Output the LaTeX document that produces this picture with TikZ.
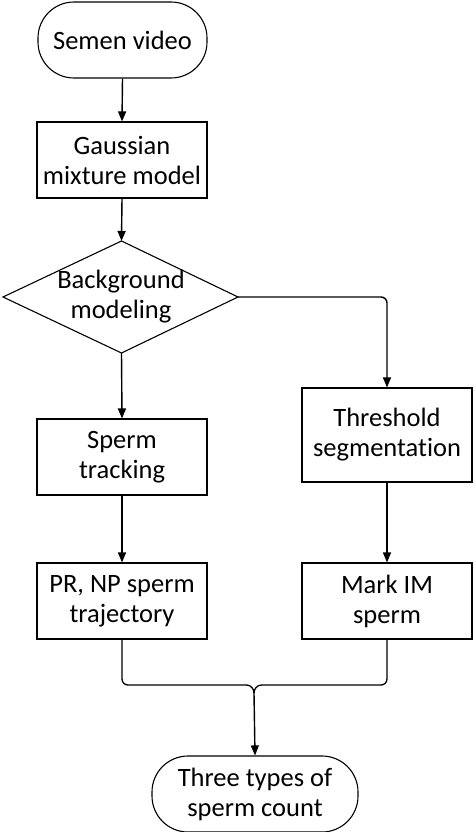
\documentclass[tikz,border=0pt]{standalone}
\usepackage{fontspec}
\setmainfont[Ligatures=NoCommon]{Carlito}
\usetikzlibrary{arrows.meta,calc}
\begin{document}
\begin{tikzpicture}[x=1pt,y=-1pt,
  every node/.style={font=\fontsize{26.5}{30}\selectfont, align=center, inner sep=0pt},
  box/.style={draw, line width=1.1pt, minimum width=170pt, minimum height=76pt},
  pill/.style={draw, line width=1.1pt, rounded corners=36pt, minimum height=76pt},
  conn/.style={line width=1.4pt, -{Triangle[length=10pt,width=8pt]}},
  plain/.style={line width=1.3pt}]
\useasboundingbox (0,0) rectangle (474,832);
\node[pill, minimum width=169pt] (sv) at (122.5,40) {Semen video};
\node[box] (gmm) at (122,160) {Gaussian\\mixture model};
\node (bg) at (121,297) {Background\\modeling};
\coordinate (bgW) at (3,297);
\coordinate (bgN) at (121.5,241);
\coordinate (bgE) at (238,297);
\coordinate (bgS) at (121.5,353);
\draw[line width=1.1pt] (bgW) -- (bgN) -- (bgE) -- (bgS) -- cycle;
\node[box] (st) at (122,457) {Sperm\\tracking};
\node[box] (pr) at (122,601) {PR, NP sperm\\trajectory};
\node[box, minimum height=94pt] (th) at (387,435) {Threshold\\segmentation};
\node[box] (mk) at (387,601) {Mark IM\\sperm};
\node[pill, minimum width=206pt] (out) at (255,794) {Three types of\\sperm count};
\coordinate (j) at (254,693);
\draw[conn] (sv.south) -- (gmm.north);
\draw[conn] (gmm.south) -- (bgN);
\draw[conn] (bgS) -- (st.north);
\draw[conn] (st.south) -- (pr.north);
\draw[conn, rounded corners=6pt] (bgE) -| (th.north);
\draw[conn] (th.south) -- (mk.north);
\draw[plain, rounded corners=6pt] (pr.south) |- ($(j)+(-7,-8)$);
\draw[plain] ($(j)+(-7.5,-8)$) to[out=0,in=90] (j);
\draw[plain, rounded corners=6pt] (mk.south) |- ($(j)+(7,-8)$);
\draw[plain] ($(j)+(7.5,-8)$) to[out=180,in=90] (j);
\draw[conn] (j) -- (out.north);
\end{tikzpicture}
\end{document}
